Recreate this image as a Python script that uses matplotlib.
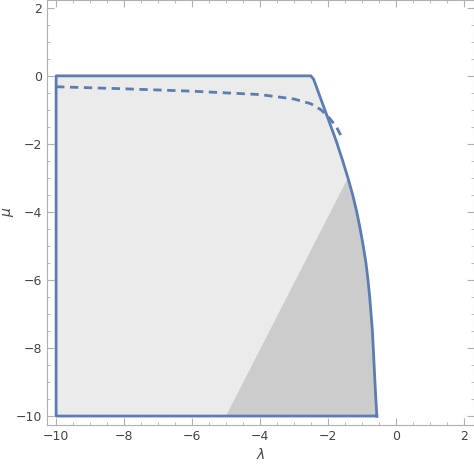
import matplotlib
matplotlib.use("Agg")
import matplotlib.pyplot as plt
import numpy as np

# boundary of the region (solid curve), right side
edge_x = [-2.5, -2.42, -2.2, -1.98, -1.76, -1.58, -1.41, -1.27, -1.15, -1.05, -0.96, -0.88,
          -0.82, -0.77, -0.73, -0.69, -0.64, -0.6, -0.56]
edge_y = [0.0, -0.1, -0.7, -1.3, -1.9, -2.45, -3.0, -3.5, -4.0, -4.5, -5.0, -5.5,
          -6.0, -6.5, -7.0, -7.5, -8.5, -9.3, -10.0]

# dashed curve
dash_x = [-10, -8, -6, -4, -3, -2.5, -2.2, -1.95, -1.75, -1.62]
dash_y = [-0.32, -0.38, -0.45, -0.55, -0.68, -0.82, -1.0, -1.25, -1.5, -1.75]

# dark region: straight edge from bottom to curve
dark_line_x = [-5.0, -1.41]
dark_line_y = [-10.0, -3.0]

blue = '#5b7db1'
fig, ax = plt.subplots(figsize=(4.74, 4.70), dpi=100)
fig.subplots_adjust(left=0.099, right=1.0, bottom=0.096, top=1.0)

outer_x = [-10, -10] + edge_x
outer_y = [-10, 0] + edge_y
ax.fill(outer_x, outer_y, color='#ebebeb', lw=0, zorder=1)

ex = np.array(edge_x); ey = np.array(edge_y)
mask = ey < dark_line_y[1]
dx = [dark_line_x[0], dark_line_x[1]] + list(ex[mask])
dy = [dark_line_y[0], dark_line_y[1]] + list(ey[mask])
ax.fill(dx, dy, color='#cccccc', lw=0, zorder=2)

ax.plot([-0.56, -10, -10] + edge_x, [-10, -10, 0] + edge_y, color=blue, lw=2, zorder=3)
ax.plot(dash_x, dash_y, color=blue, lw=2, ls=(0, (3, 2)), zorder=3)

ax.set_xlim(-10.27, 2.3)
ax.set_ylim(-10.26, 2.23)
ax.set_xticks(np.arange(-10, 3, 2))
ax.set_yticks(np.arange(-10, 3, 2))
ax.set_xticks(np.arange(-10, 2.5, 0.5), minor=True)
ax.set_yticks(np.arange(-10, 2.5, 0.5), minor=True)
for s in ax.spines.values():
    s.set_color('#b0b0b0')
ax.tick_params(which='both', direction='in', colors='#b0b0b0', labelcolor='#444444',
               top=True, right=True, labelsize=9)
ax.tick_params(which='major', length=5)
ax.tick_params(which='minor', length=2.5)
ax.set_xticklabels([f"{v:g}".replace('-', '\u2212') for v in np.arange(-10, 3, 2)])
ax.set_yticklabels([f"{v:g}".replace('-', '\u2212') for v in np.arange(-10, 3, 2)])
ax.set_xlabel('λ', color='#444444', fontsize=10, style='italic')
ax.set_ylabel('μ', color='#444444', fontsize=10, style='italic', labelpad=1)
fig.savefig('out.png', dpi=100)
